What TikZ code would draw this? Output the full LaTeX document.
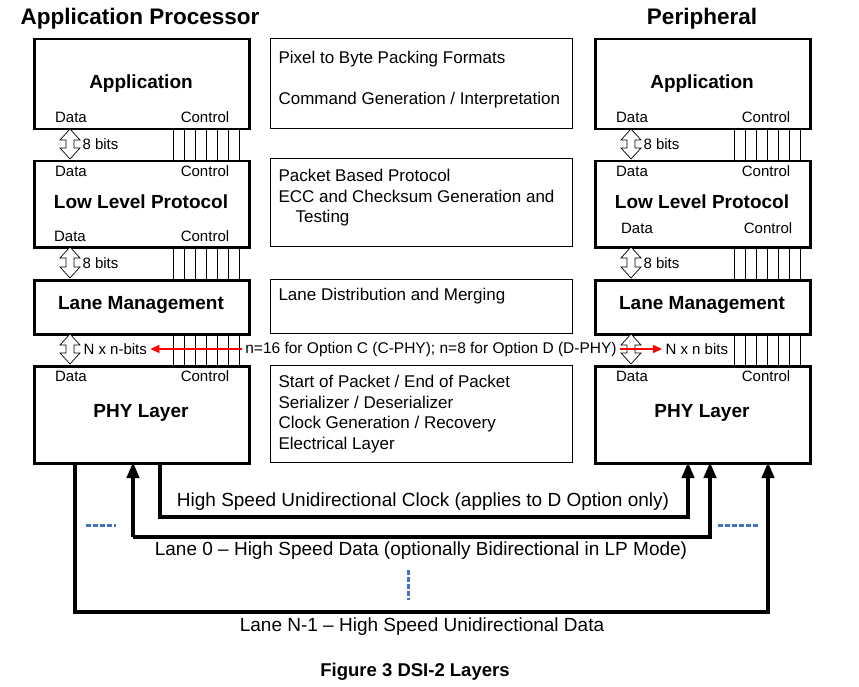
\documentclass[tikz,border=0pt]{standalone}
\usepackage{fontspec}
\setmainfont{Liberation Sans}
\usetikzlibrary{arrows.meta}
\definecolor{dotc}{RGB}{68,114,196}
\begin{document}
\begin{tikzpicture}[x=1pt,y=-1pt,
 blk/.style={draw,line width=2.5pt,minimum width=215pt,anchor=north west,inner sep=0pt},
 mid/.style={draw,line width=0.7pt,minimum width=302pt,anchor=north west,inner sep=0pt},
 bt/.style={font=\bfseries\fontsize{19}{21}\selectfont},
 sm/.style={font=\fontsize{15}{17}\selectfont},
 mt/.style={font=\fontsize{17}{20.5}\selectfont,align=left,anchor=north west},
 ln/.style={font=\fontsize{19}{21}\selectfont},
 lane/.style={line width=4pt},
 tip/.style={-{Triangle[length=16pt,width=12pt]}},
 dots/.style={draw=dotc,line width=3pt,dash pattern=on 4.5pt off 2.5pt}]
\useasboundingbox (0,0) rectangle (859,687);
% titles
\node[font=\bfseries\fontsize{22.5}{25}\selectfont] (t1) at (140,19) {Application Processor};
\node[font=\bfseries\fontsize{22.5}{25}\selectfont] (t2) at (702,19) {Peripheral};
\node[font=\bfseries\fontsize{18.5}{21}\selectfont] (cap) at (415,672) {Figure 3 DSI-2 Layers};
% blocks
\foreach \s/\x in {L/33,R/594}{
 \node[blk,minimum height=90pt] (app\s) at (\x,38) {};
 \node[blk,minimum height=86pt] (llp\s) at (\x,160) {};
 \node[blk,minimum height=54pt] (lm\s) at (\x,279) {};
 \node[blk,minimum height=97pt] (phy\s) at (\x,365) {};
 \node[bt] (appt\s) at (\x+108,84) {Application};
 \node[bt] (llpt\s) at (\x+108,202) {Low Level Protocol};
 \node[bt] (lmt\s) at (\x+108,305) {Lane Management};
 \node[bt] (phyt\s) at (\x+108,413) {PHY Layer};
 \node[sm] (d1\s) at (\x+38,117) {Data};
 \node[sm] (c1\s) at (\x+172,117) {Control};
 \node[sm] (d2\s) at (\x+38,171) {Data};
 \node[sm] (c2\s) at (\x+172,171) {Control};
 \node[sm] (d4\s) at (\x+38,376) {Data};
 \node[sm] (c4\s) at (\x+172,376) {Control};
 % control lines
 \foreach \k in {0,...,6}{
  \draw[line width=0.7pt] (\x+140+\k*11,128) -- (\x+140+\k*11,160);
  \draw[line width=0.7pt] (\x+140+\k*11,246) -- (\x+140+\k*11,279);
  \draw[line width=0.7pt] (\x+140+\k*11,333) -- (\x+140+\k*11,365);
 }
 % hollow double arrows
 \foreach \ya/\yb in {128/160,246/279,333/365}{
  \draw[line width=0.7pt,fill=white] (\x+37,\ya+1) -- (\x+47,\ya+12) -- (\x+41,\ya+12) -- (\x+41,\yb-12) -- (\x+47,\yb-12) -- (\x+37,\yb-1) -- (\x+27,\yb-12) -- (\x+33,\yb-12) -- (\x+33,\ya+12) -- (\x+27,\ya+12) -- cycle;
 }
}
\node[sm] (dl2L) at (70,236) {Data};
\node[sm] (cl2L) at (205,236) {Control};
\node[sm] (dl2R) at (637,228) {Data};
\node[sm] (cl2R) at (768,228) {Control};
\foreach \s/\x in {L/33,R/594}{
 \node[sm,anchor=west] (b1\s) at (\x+46,144) {8 bits};
 \node[sm,anchor=west] (b2\s) at (\x+46,263) {8 bits};
}
\node[sm,anchor=west] (b3L) at (80,349) {N x n-bits};
\node[sm,anchor=west] (b3R) at (662,349) {N x n bits};
\node[font=\fontsize{15.5}{17}\selectfont] (opt) at (431,349) {n=16 for Option C (C-PHY); n=8 for Option D (D-PHY)};
\draw[red,line width=1.5pt,-{Triangle[length=9pt,width=8pt]}] (opt.west) -- (b3L.east);
\draw[red,line width=1.5pt,-{Triangle[length=9pt,width=8pt]}] (opt.east) -- (b3R.west);
% middle boxes
\node[mid,minimum height=90pt] (m1) at (270,38) {};
\node[mid,minimum height=88pt] (m2) at (270,158) {};
\node[mid,minimum height=54pt] (m3) at (270,279) {};
\node[mid,minimum height=97pt] (m4) at (270,365) {};
\node[mt] (m1t) at (275,48) {Pixel to Byte Packing Formats\\[20pt]Command Generation / Interpretation};
\node[mt] (m2t) at (275,166) {Packet Based Protocol\\ECC and Checksum Generation and\\\quad Testing};
\node[mt] (m3t) at (275,285) {Lane Distribution and Merging};
\node[mt] (m4t) at (275,372) {Start of Packet / End of Packet\\Serializer / Deserializer\\Clock Generation / Recovery\\Electrical Layer};
% lanes
\coordinate (a1) at (75,462); \coordinate (a2) at (768,462);
\draw[lane,tip] (a1) -- (75,612) -- (768,612) -- (a2);
\coordinate (b1) at (133,462); \coordinate (b2) at (710,462);
\draw[lane,tip] (133,537) -- (710,537) -- (b2);
\draw[lane,tip] (133,537) -- (b1);
\coordinate (c1) at (160,462); \coordinate (c2) at (688,462);
\draw[lane,tip] (c1) -- (160,517) -- (688,517) -- (c2);
\node[ln] (l1) at (423,502) {High Speed Unidirectional Clock (applies to D Option only)};
\node[ln] (l2) at (421,551) {Lane 0 -- High Speed Data (optionally Bidirectional in LP Mode)};
\node[ln] (l3) at (422,627) {Lane N-1 -- High Speed Unidirectional Data};
\draw[dots] (86,525) -- (116,525);
\draw[dots] (718,525) -- (760,525);
\draw[dots] (408,570) -- (408,600);
\end{tikzpicture}
\end{document}
